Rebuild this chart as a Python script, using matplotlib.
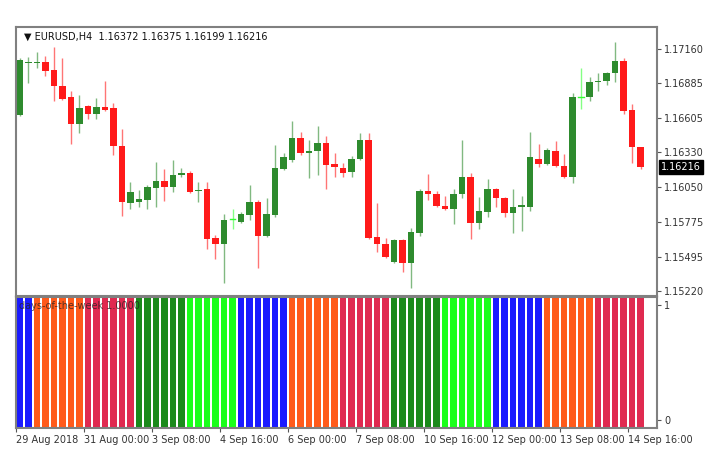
import matplotlib
matplotlib.use("Agg")
import matplotlib.pyplot as plt
from matplotlib.patches import Rectangle

opens  = [1.16629,1.17045,1.17045,1.17053,1.16989,1.16861,1.16773,1.16557,1.16701,1.16637,
          1.16693,1.16685,1.16381,1.15925,1.15933,1.15949,1.16045,1.16101,1.16053,1.16149,
          1.16165,1.16021,1.16037,1.15645,1.15597,1.15797,1.15773,1.15829,1.15933,1.15661,
          1.15829,1.16197,1.16269,1.16445,1.16325,1.16341,1.16405,1.16237,1.16205,1.16173,
          1.16277,1.16429,1.15653,1.15597,1.15453,1.15629,1.15445,1.15685,1.16021,1.15997,
          1.15901,1.15877,1.15997,1.16133,1.15765,1.15853,1.16037,1.15965,1.15845,1.15893,
          1.15893,1.16277,1.16237,1.16341,1.16221,1.16133,1.16773,1.16773,1.16893,1.16901,
          1.16965,1.17061,1.16669,1.16372]
highs  = [1.17085,1.17093,1.17133,1.17101,1.17173,1.17085,1.16821,1.16789,1.16709,1.16765,
          1.16901,1.16725,1.16517,1.16093,1.16029,1.16069,1.16253,1.16197,1.16269,1.16205,
          1.16181,1.16093,1.16093,1.15669,1.15837,1.15877,1.15853,1.16069,1.15949,1.15965,
          1.16389,1.16325,1.16581,1.16493,1.16429,1.16541,1.16461,1.16325,1.16245,1.16301,
          1.16485,1.16485,1.15925,1.15645,1.15637,1.15637,1.15725,1.16037,1.16157,1.16021,
          1.15981,1.16037,1.16429,1.16165,1.15973,1.16117,1.16045,1.15973,1.16037,1.15981,
          1.16493,1.16397,1.16365,1.16421,1.16317,1.16805,1.17005,1.16933,1.16965,1.16973,
          1.17213,1.17085,1.16717,1.16375]
lows   = [1.16621,1.16885,1.17005,1.16941,1.16741,1.16749,1.16397,1.16485,1.16597,1.16597,
          1.16661,1.16309,1.15821,1.15877,1.15893,1.15877,1.15893,1.15941,1.16013,1.16133,
          1.16005,1.15933,1.15557,1.15477,1.15285,1.15717,1.15765,1.15789,1.15405,1.15653,
          1.15813,1.16189,1.16253,1.16309,1.16125,1.16149,1.16037,1.16133,1.16133,1.16133,
          1.16269,1.15637,1.15533,1.15485,1.15445,1.15373,1.15245,1.15661,1.15949,1.15893,
          1.15869,1.15757,1.15965,1.15637,1.15717,1.15813,1.15893,1.15813,1.15685,1.15701,
          1.15861,1.16213,1.16229,1.16213,1.16125,1.16085,1.16677,1.16741,1.16821,1.16869,
          1.16893,1.16637,1.16245,1.16199]
closes = [1.17069,1.17053,1.17053,1.16981,1.16861,1.16757,1.16557,1.16685,1.16637,1.16693,
          1.16669,1.16381,1.15933,1.16013,1.15957,1.16053,1.16101,1.16053,1.16149,1.16165,
          1.16013,1.16029,1.15637,1.15597,1.15789,1.15801,1.15837,1.15933,1.15661,1.15837,
          1.16205,1.16293,1.16445,1.16325,1.16341,1.16405,1.16229,1.16213,1.16165,1.16277,
          1.16429,1.15645,1.15597,1.15493,1.15629,1.15445,1.15693,1.16021,1.15997,1.15901,
          1.15877,1.15997,1.16133,1.15765,1.15861,1.16037,1.15965,1.15845,1.15893,1.15909,
          1.16293,1.16237,1.16349,1.16221,1.16133,1.16773,1.16777,1.16893,1.16901,1.16965,
          1.17061,1.16661,1.16373,1.16216]
doji = [25, 66]

weekday = [3]*2 + [4]*6 + [5]*6 + [1]*6 + [2]*6 + [3]*6 + [4]*6 + [5]*6 + [1]*6 + [2]*6 + [3]*6 + [4]*6 + [5]*6
day_colors = {1: "#1a8a1a", 2: "#1aff1a", 3: "#1a1aff", 4: "#ff5a1a", 5: "#e02a50"}

price_ticks = [1.17160, 1.16885, 1.16605, 1.16330, 1.16050, 1.15775, 1.15495, 1.15220]
tick_pos = [0, 8, 16, 24, 32, 40, 48, 56, 64, 72]
tick_labels = ["29 Aug 2018", "31 Aug 00:00", "3 Sep 08:00", "4 Sep 16:00", "6 Sep 00:00",
               "7 Sep 08:00", "10 Sep 16:00", "12 Sep 00:00", "13 Sep 08:00", "14 Sep 16:00"]
last_price = 1.16216

fig = plt.figure(figsize=(7.2, 4.67), dpi=100)
fs = 7
ax = fig.add_axes([16/720, 1-296/467, 641/720, 269/467])
sub = fig.add_axes([16/720, 1-428/467, 641/720, 131/467])
xl = (-0.47, 74.94)

GREEN, RED, LIME = "#2e8b2e", "#ff1a1a", "#33ff33"
for i in range(len(opens)):
    o, h, l, c = opens[i], highs[i], lows[i], closes[i]
    col = LIME if i in doji else (GREEN if c >= o else RED)
    ax.plot([i, i], [l, h], color=col, lw=1, alpha=0.6, solid_capstyle="butt")
    lo, hi = min(o, c), max(o, c)
    if i in doji:
        ax.plot([i-0.35, i+0.35], [c, c], color=col, lw=1)
    else:
        ax.add_patch(Rectangle((i-0.4, lo), 0.8, max(hi-lo, 0.00003), color=col, lw=0))
ax.set_xlim(*xl)
ax.set_ylim(1.15181, 1.17333)
ax.yaxis.tick_right()
ax.set_yticks(price_ticks)
ax.set_yticklabels([f"{p:.5f}" for p in price_ticks], fontsize=fs, color="#333333")
ax.set_xticks([])
ax.tick_params(axis="y", length=3, color="#555555", pad=2)
ax.text(0.012, 0.965, "\u25bc EURUSD,H4  1.16372 1.16375 1.16199 1.16216", transform=ax.transAxes,
        fontsize=fs, va="center", ha="left", color="#111111")
ax.annotate(f"{last_price:.5f}", xy=(1, last_price), xycoords=("axes fraction", "data"),
            xytext=(3, 0), textcoords="offset points", fontsize=fs, color="white", va="center",
            bbox=dict(boxstyle="square,pad=0.2", fc="black", ec="black"), annotation_clip=False)

ylo, yhi = -0.07, 1.07
for i, d in enumerate(weekday):
    sub.bar(i, yhi - ylo, bottom=ylo, width=0.78, color=day_colors[d], linewidth=0)
sub.set_xlim(*xl)
sub.set_ylim(ylo, yhi)
sub.yaxis.tick_right()
sub.set_yticks([0, 1])
sub.set_yticklabels(["0", "1"], fontsize=fs, color="#333333")
sub.set_xticks([p - 0.47 for p in tick_pos])
sub.set_xticklabels(tick_labels, fontsize=fs, color="#333333", ha="left")
sub.tick_params(axis="x", length=3, color="#555555", pad=2)
sub.tick_params(axis="y", length=3, color="#555555", pad=2)
sub.text(0.004, 0.93, "days-of-the-week 1.0000", transform=sub.transAxes, fontsize=fs,
         color="#222222", alpha=0.75, va="center")

for a in (ax, sub):
    for s in a.spines.values():
        s.set_color("#808080")
        s.set_linewidth(1.5)

fig.savefig("out.png", dpi=100)
